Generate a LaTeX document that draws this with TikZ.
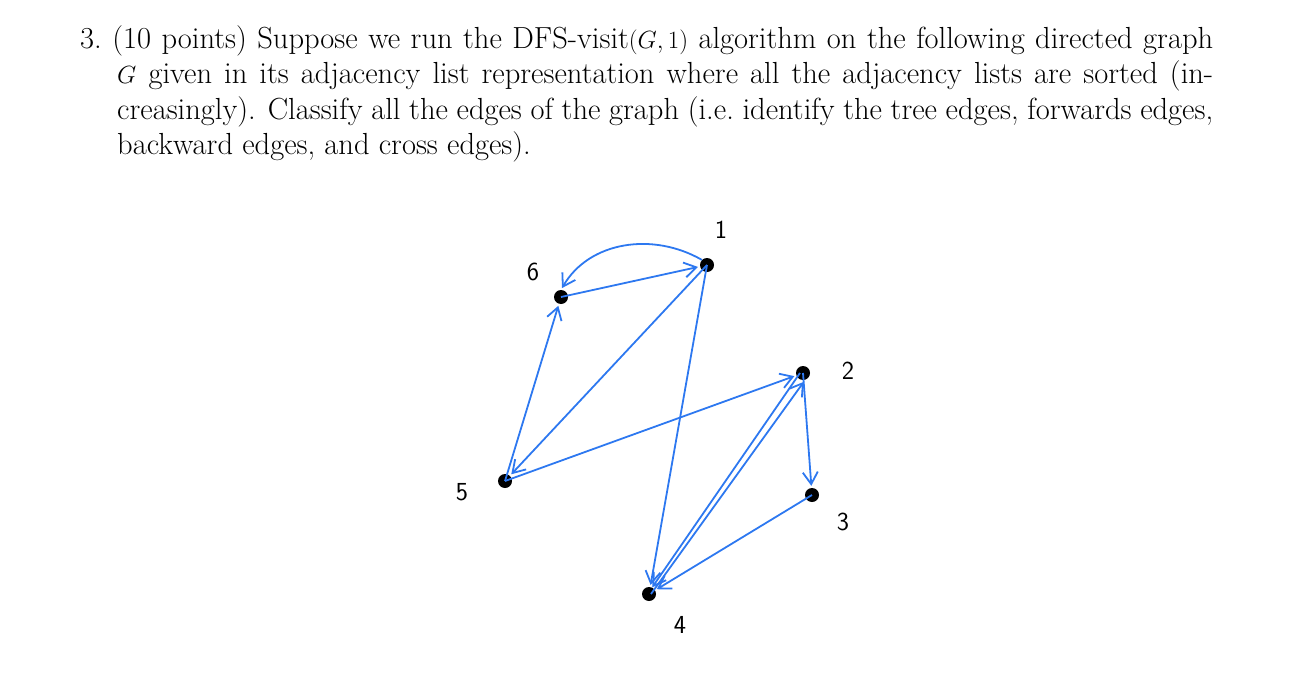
\documentclass[tikz,border=0pt]{standalone}
\usetikzlibrary{arrows.meta}
\begin{document}
\begin{tikzpicture}[x=1pt,y=-1pt,
  vtx/.style={circle,fill=black,inner sep=0pt,minimum size=14pt},
  lab/.style={font=\fontsize{26}{26}\selectfont\sffamily},
  edge/.style={draw={rgb,255:red,45;green,120;blue,240},line width=1.8pt,-{Straight Barb[length=12pt,width=15pt]},shorten >=2pt}]
\useasboundingbox (0,0) rectangle (1290,682);
\node[anchor=north west,inner sep=0pt,text width=1133pt,align=justify,font=\fontsize{30.5}{35.5}\selectfont] (txt) at (80,25)
{\hangindent=37pt\hangafter=1 3.\ (10 points) Suppose we run the DFS-visit$(G,1)$ algorithm on the following directed graph $G$ given in its adjacency list representation where all the adjacency lists are sorted (increasingly). Classify all the edges of the graph (i.e.\ identify the tree edges, forwards edges, backward edges, and cross edges).\par};
\node[vtx] (n1) at (707,265) {};
\node[vtx] (n6) at (561,297) {};
\node[vtx] (n2) at (803,373) {};
\node[vtx] (n5) at (505,481) {};
\node[vtx] (n3) at (812,495) {};
\node[vtx] (n4) at (649,594) {};
\node[lab] (l1) at (721,230) {1};
\node[lab] (l6) at (533,272) {6};
\node[lab] (l2) at (848,371) {2};
\node[lab] (l5) at (462,492) {5};
\node[lab] (l3) at (843,522) {3};
\node[lab] (l4) at (680,625) {4};
\draw[edge] (n1.north west) to[out=150,in=60] (n6.north);
\draw[edge] (n6.center) -- (n1);
\draw[edge] (n1.center) -- (n5);
\draw[edge] (n5.center) -- (n6);
\draw[edge] (n5.center) -- (n2);
\draw[edge] (n1.center) -- (n4);
\draw[edge] (n2.center) -- (n3);
\draw[edge] (n3.center) -- (n4);
\draw[edge] ([xshift=-3pt]n2.center) -- ([xshift=-3pt]n4.north east);
\draw[edge] ([xshift=2pt]n4.center) -- ([xshift=2pt]n2.south);
\end{tikzpicture}
\end{document}
